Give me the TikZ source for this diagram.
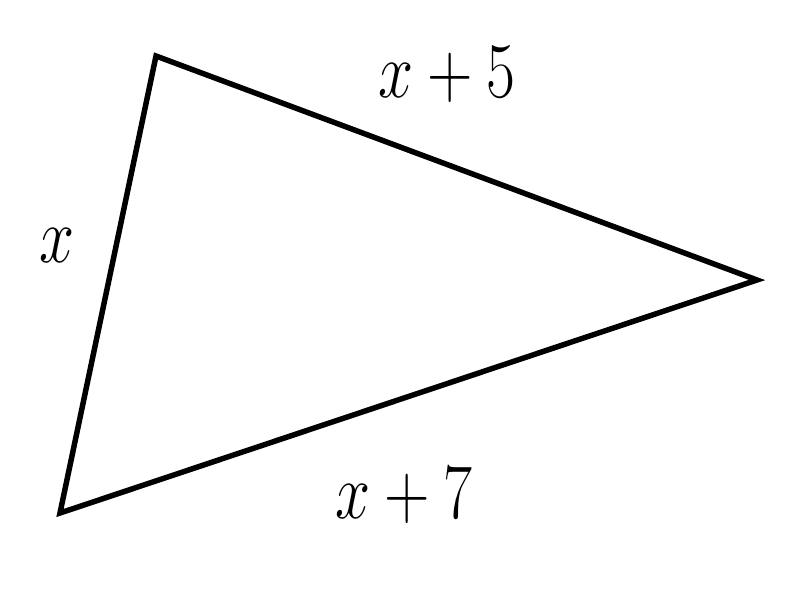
\RequirePackage{fix-cm}
\documentclass[tikz,border=0pt]{standalone}
\usepackage{fontspec}
\usepackage{graphicx}
\setmainfont{Liberation Serif}
\newcommand{\narrowlbl}[1]{\scalebox{0.8}[1]{#1}}
\begin{document}
\begin{tikzpicture}[x=0.025cm,y=-0.025cm,
  side/.style={draw=black,line width=3.9pt,line join=miter},
  lbl/.style={inner sep=0pt,anchor=base,font=\fontsize{56}{60}\selectfont}]
\useasboundingbox (0,0) rectangle (800,593);
\coordinate (A) at (156,56);
\coordinate (B) at (757,280);
\coordinate (C) at (60,513);
\draw[side] (A) -- (B) -- (C) -- cycle;
\node[lbl] (ab) at (447,97) {\narrowlbl{$x+5$}};
\node[lbl] (ca) at (57,262) {\narrowlbl{$x$}};
\node[lbl] (bc) at (404,518) {\narrowlbl{$x+7$}};
\end{tikzpicture}
\end{document}
